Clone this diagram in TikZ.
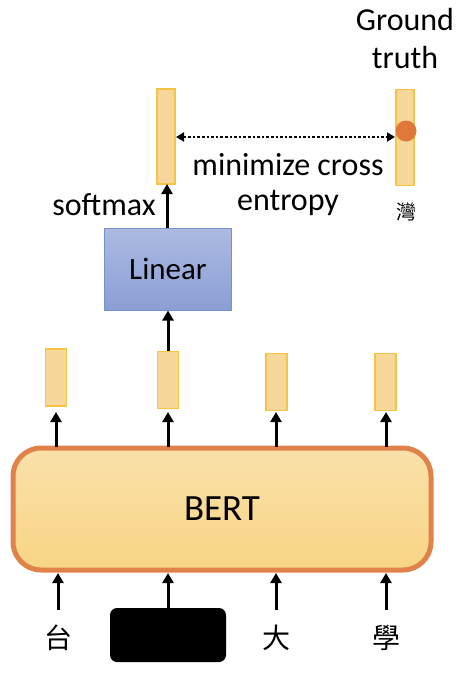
\documentclass[tikz,border=0pt]{standalone}
\usepackage{fontspec}
\setmainfont{Carlito}
\newfontfamily\cjk{Noto Sans CJK TC}
\usetikzlibrary{arrows.meta,shapes.geometric}
\definecolor{barfill}{HTML}{F8D89A}
\definecolor{barline}{HTML}{F6C445}
\definecolor{bertline}{HTML}{E0824A}
\definecolor{berttop}{HTML}{FAE1AA}
\definecolor{bertbot}{HTML}{F8D585}
\definecolor{lintop}{HTML}{ACBAE2}
\definecolor{linbot}{HTML}{8B9FD5}
\definecolor{linline}{HTML}{7690CC}
\definecolor{dotc}{HTML}{E0783A}
\tikzset{
  vec/.style={draw=barline, line width=1.2pt, fill=barfill, inner sep=0pt, minimum width=21pt, minimum height=57pt},
  up/.style={line width=3pt, -{Triangle[width=11pt,length=10pt]}},
  lbl/.style={font=\fontsize{32}{36}\selectfont, inner sep=0pt},
  ch/.style={font=\cjk\fontsize{28}{30}\selectfont, inner sep=0pt}
}
\begin{document}
\begin{tikzpicture}[x=1pt,y=1pt]
\useasboundingbox (0,0) rectangle (469,-686);
% BERT
\node[draw=bertline, line width=5pt, rounded corners=28pt, top color=berttop, bottom color=bertbot,
  minimum width=418pt, minimum height=122pt, font=\fontsize{37}{40}\selectfont] (bert) at (222,-509) {BERT};
% row vectors
\node[vec] (v1) at (56,-377.5) {};
\node[vec] (v2) at (168,-380) {};
\node[vec] (v3) at (276.5,-382) {};
\node[vec] (v4) at (385.5,-382) {};
% arrows BERT -> vectors
\foreach \i/\x in {1/56,2/168,3/276,4/386}{
  \coordinate (bt\i) at (\x,-447);
  \draw[up] (bt\i) -- (\x,-412);
}
% Linear
\node[draw=linline, line width=1pt, top color=lintop, bottom color=linbot, minimum width=127pt, minimum height=82pt,
  font=\fontsize{31}{34}\selectfont] (lin) at (168,-269) {Linear};
\draw[up] (v2.north) -- (lin.south);
% softmax output
\node[vec, minimum width=18pt, minimum height=95pt] (out) at (166,-136.5) {};
\coordinate (lt) at (167,-228);
\draw[up] (lt) -- (167,-184);
\node[lbl, anchor=east] (sm) at (156,-205) {softmax};
% ground truth
\node[vec, minimum width=18pt, minimum height=96pt] (gt) at (405,-137.5) {};
\node[circle, fill=dotc, inner sep=0pt, minimum size=21pt] (dot) at (406,-131) {};
\node[lbl] (gtl1) at (405,-20) {Ground};
\node[lbl] (gtl2) at (405,-58) {truth};
\node[ch, font=\cjk\fontsize{20}{22}\selectfont] (wan) at (406,-212) {灣};
% dotted arrow
\coordinate (da) at (176,-137);
\coordinate (db) at (395,-137);
\draw[line width=2.6pt, dotted, {Triangle[width=9pt,length=8pt]}-{Triangle[width=9pt,length=8pt]}] (da) -- (db);
\node[lbl] (mce1) at (288,-165) {minimize cross};
\node[lbl] (mce2) at (288,-203) {entropy};
% inputs
\node[fill=black, rounded corners=7pt, minimum width=116pt, minimum height=54pt, inner sep=0pt] (mask) at (168,-635) {};
\node[ch] (c1) at (59,-638) {台};
\node[ch] (c3) at (276,-638) {大};
\node[ch] (c4) at (386,-638) {學};
\draw[up] (58,-610) -- (58,-573);
\draw[up] (mask.north) -- (168,-573);
\draw[up] (276,-610) -- (276,-573);
\draw[up] (386,-610) -- (386,-573);
\end{tikzpicture}
\end{document}
